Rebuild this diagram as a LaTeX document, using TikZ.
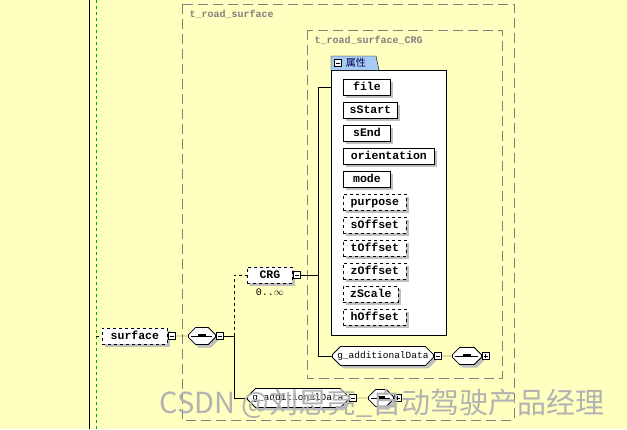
\documentclass[tikz,border=0pt]{standalone}
\usepackage{fontspec}
\setmainfont{Liberation Mono}
\newfontfamily\cjk{Noto Sans CJK SC}
\usetikzlibrary{positioning,shapes.misc,shadows}
\definecolor{paper}{RGB}{255,255,192}
\definecolor{tabblue}{RGB}{166,202,240}
\definecolor{frame}{RGB}{128,128,128}
\definecolor{xsdgreen}{RGB}{0,170,0}
\tikzset{
  shd/.style={drop shadow={shadow xshift=3pt,shadow yshift=-3pt,fill=black!25,opacity=1}},
  elem/.style={draw,thick,fill=white,shd,font=\bfseries\fontsize{11.5}{12}\selectfont,
    inner sep=0pt,minimum height=16pt,text height=7pt,text depth=1pt,anchor=west},
  opt/.style={elem,dashed},
  grp/.style={chamfered rectangle,chamfered rectangle xsep=4pt,chamfered rectangle ysep=4pt,
    draw,thick,fill=white,shd,font=\fontsize{9.5}{12}\selectfont,inner xsep=0pt,inner ysep=1pt,
    minimum height=17pt,anchor=west},
  seq/.style={grp,path picture={
      \draw ([xshift=3pt]path picture bounding box.west) -- ([xshift=-3pt]path picture bounding box.east);}},
  pm/.style={draw,fill=white,inner sep=0pt,minimum size=7pt,anchor=west,path picture={
      \draw ([xshift=1.5pt]path picture bounding box.west) -- ([xshift=-1.5pt]path picture bounding box.east);}},
  pp/.style={pm,path picture={
      \draw ([xshift=1.5pt]path picture bounding box.west) -- ([xshift=-1.5pt]path picture bounding box.east);
      \draw ([yshift=-1.5pt]path picture bounding box.north) -- ([yshift=1.5pt]path picture bounding box.south);}},
  box/.style={draw=frame,dash pattern=on 10pt off 5pt,thick},
  title/.style={text=frame,font=\bfseries\fontsize{10}{11}\selectfont,anchor=west},
}
\newcommand{\seqdots}{\rule[2pt]{8pt}{2.4pt}}
\begin{document}
\begin{tikzpicture}[x=1pt,y=-1pt]
\fill[paper] (0,0) rectangle (627,429);
\useasboundingbox (0,0) rectangle (627,429);
% left margin
\draw[thick] (89,0) -- (89,429);
\draw[xsdgreen,dashed,thick] (96,0) -- (96,429);
% type frames
\draw[box] (182,4) rectangle (514,420);
\node[title] at (186,14) {t\_road\_surface};
\draw[box] (307,30) rectangle (502,378);
\node[title] at (311,40) {t\_road\_surface\_CRG};
% attribute panel
\draw[thick,fill=white] (331,70) rectangle (446,335);
\draw[fill=tabblue] (331,70) -- (331,56) -- (376,56) -- (379,70);
\node[pm] (attm) at (334,63) {};
\node[right=1pt of attm,text=black!70!blue,font=\cjk\itshape\fontsize{10}{10}\selectfont] {属性};
\node[elem,minimum width=47pt] (file) at (343,87) {file};
\node[elem,minimum width=54pt] (sstart) at (343,110) {sStart};
\node[elem,minimum width=47pt] (send) at (343,133) {sEnd};
\node[elem,minimum width=91pt] (orient) at (343,156) {orientation};
\node[elem,minimum width=47pt] (mode) at (343,179) {mode};
\node[opt,minimum width=63pt] (purpose) at (343,202) {purpose};
\node[opt,minimum width=63pt] (soffset) at (343,225) {sOffset};
\node[opt,minimum width=63pt] (toffset) at (343,248) {tOffset};
\node[opt,minimum width=63pt] (zoffset) at (343,271) {zOffset};
\node[opt,minimum width=55pt] (zscale) at (343,294) {zScale};
\node[opt,minimum width=63pt] (hoffset) at (343,317) {hOffset};
% elements
\node[opt,minimum width=65pt] (surface) at (102,336) {surface};
\node[pm] (surfacem) at (surface.east) {};
\node[seq,minimum width=27pt] (seqa) at (188,336) {\seqdots};
\node[pm] (seqam) at (seqa.east) {};
\node[opt,minimum width=45pt] (crg) at (247,275) {CRG};
\node[pm] (crgm) at (crg.east) {};
\node[below=2pt of crg,font=\fontsize{10}{10}\selectfont] {0..$\infty$};
\node[grp,minimum width=101pt] (gadd) at (332,356) {g\_additionalData};
\node[pm] (gaddm) at (gadd.east) {};
\node[seq,minimum width=29pt] (seqb) at (452,356) {\seqdots};
\node[pp] (seqbp) at (seqb.east) {};
\node[grp,minimum width=101pt] (gaddo) at (247,398) {g\_additionalData};
\node[pm] (gaddom) at (gaddo.east) {};
\node[seq,minimum width=25pt] (seqc) at (368,398) {\seqdots};
\node[pp] (seqcp) at (seqc.east) {};
% connectors
\coordinate (forka) at (234,336);
\coordinate (forkb) at (318,275);
\draw[dashed] (96,336) -- (surface);
\draw (surfacem) -- (seqa);
\draw (seqam) -- (forka);
\draw[dashed] (forka) |- (crg);
\draw (forka) |- (gaddo);
\draw (crgm) -- (forkb);
\draw (forkb) |- (file.west -| forkb) -- (file.west -| 331,0);
\draw (forkb) |- (gadd);
\draw (gaddm) -- (seqb);
\draw (gaddom) -- (seqc);
% watermark
\node[text=black!30,font=\cjk\fontsize{29}{30}\selectfont,anchor=west] at (156,404) {CSDN @刘恩亮\_自动驾驶产品经理};
\end{tikzpicture}
\end{document}
